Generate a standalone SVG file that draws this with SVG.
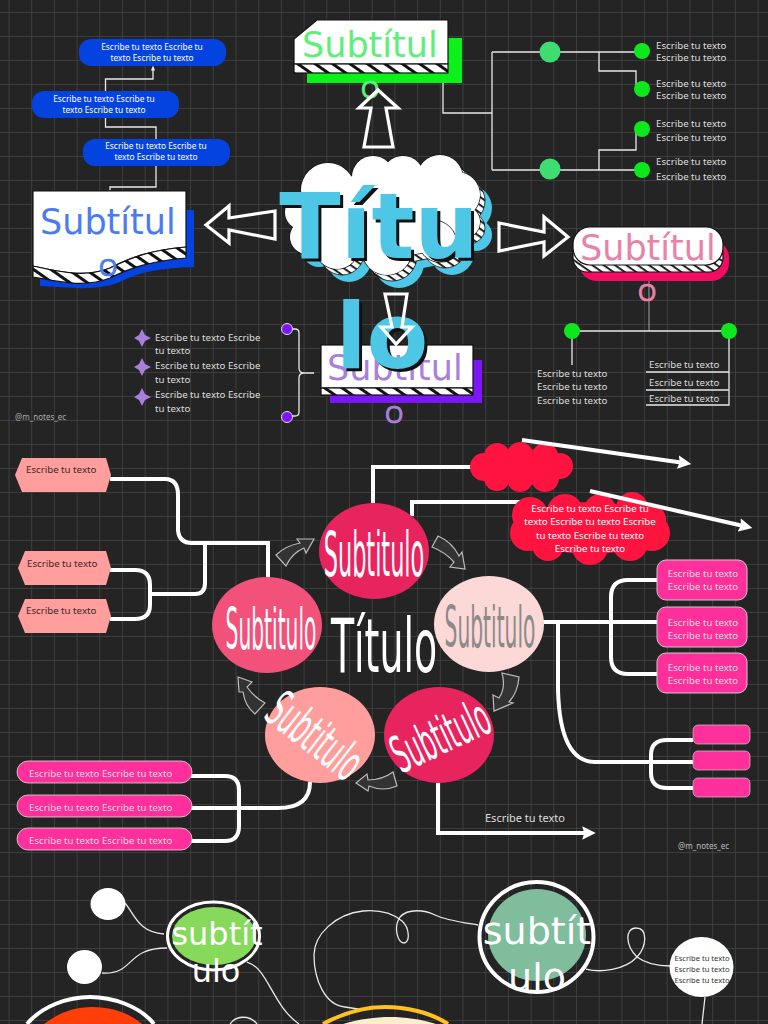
<svg xmlns="http://www.w3.org/2000/svg" width="768" height="1024" viewBox="0 0 768 1024">
<defs>
<pattern id="grid" x="8.5" y="12" width="22.7" height="24" patternUnits="userSpaceOnUse"><path d="M0 0V24M0 0H22.7" fill="none" stroke="#444" stroke-width="1.6"/></pattern>
<pattern id="h" width="17" height="10" patternUnits="userSpaceOnUse" patternTransform="rotate(35)"><rect width="17" height="10" fill="#fff"/><rect width="17" height="3" fill="#111"/></pattern>
<pattern id="h2" width="11" height="6.500" patternUnits="userSpaceOnUse" patternTransform="rotate(35)"><rect width="11" height="6.500" fill="#fff"/><rect width="11" height="2" fill="#222"/></pattern>
<marker id="ah" viewBox="0 0 10 10" refX="5" refY="5" markerWidth="3.4" markerHeight="3.6" orient="auto"><path d="M0 0L10 5L0 10L1.5 5z" fill="#fff"/></marker>
<marker id="as" viewBox="0 0 10 10" refX="5" refY="5" markerWidth="4" markerHeight="4" orient="auto"><path d="M0 1L10 5L0 9z" fill="#eee"/></marker>
<g id="cl">
<circle cx="328" cy="190" r="27"/><circle cx="373" cy="177" r="21"/><circle cx="403" cy="177" r="21"/><circle cx="440" cy="178" r="23"/><circle cx="457" cy="195" r="23"/><circle cx="303" cy="212" r="18"/><circle cx="307" cy="237" r="17"/><circle cx="337" cy="247" r="22"/><circle cx="387" cy="250" r="25"/><circle cx="440" cy="240" r="22"/><circle cx="464" cy="222" r="16"/><ellipse cx="385" cy="215" rx="85" ry="42"/>
</g>
<g id="rc1"><ellipse cx="522" cy="467" rx="42" ry="18"/><circle cx="484" cy="467" r="14"/><circle cx="497" cy="456" r="13"/><circle cx="520" cy="455" r="13"/><circle cx="545" cy="456" r="13"/><circle cx="560" cy="466" r="13"/><circle cx="545" cy="478" r="14"/><circle cx="520" cy="479" r="13"/><circle cx="497" cy="478" r="13"/></g>
<g id="rc2"><ellipse cx="590" cy="528" rx="70" ry="26"/><circle cx="530" cy="515" r="18"/><circle cx="565" cy="512" r="18"/><circle cx="600" cy="510" r="16"/><circle cx="632" cy="508" r="16"/><circle cx="650" cy="520" r="16"/><circle cx="652" cy="533" r="18"/><circle cx="528" cy="533" r="18"/><circle cx="548" cy="545" r="16"/><circle cx="590" cy="547" r="18"/><circle cx="630" cy="543" r="18"/></g>
</defs>
<style>
text{font-family:"Noto Sans","DejaVu Sans",sans-serif}
.t{font-size:9.7px;fill:#ddd}
.c{text-anchor:middle}
.w{fill:#fff}
.s{font-size:8.4px}
.d{fill:#3a2a2a}
.ln{fill:none;stroke:#e8e8e8;stroke-width:1.3}
.th{fill:none;stroke:#fff;stroke-width:4}
.sub{font-size:35px;font-family:"DejaVu Sans",sans-serif}
.o{font-size:24px;text-anchor:middle;stroke-width:.7}
.blk{stroke:#111;stroke-width:1.2}
.big{font-family:"DejaVu Sans",sans-serif;font-weight:bold;font-size:90px;text-anchor:middle;fill:#4ec7e6}
.shadow{fill:#111}
.oval{font-family:"DejaVu Sans",sans-serif;fill:#fff;font-size:27px;text-anchor:middle}
.arr{fill:none;stroke:#fff;stroke-width:3.2}
.sk{fill:#333;stroke:#bbb;stroke-width:1.2}
.blue{fill:#0543e0}
.pk{fill:#ff2f9c}
.hex{fill:#ff9e9c}
.g1{fill:#3fdc72}
.g2{fill:#0ce81c}
.star{fill:#a97fdb}
.bs{font-size:32px;font-family:"DejaVu Sans",sans-serif;fill:#fff;text-anchor:middle}
.bs2{font-size:38px;font-family:"DejaVu Sans",sans-serif;fill:#fff;text-anchor:middle}
</style>
<rect width="768" height="1024" fill="#242424"/>
<rect width="768" height="1024" fill="url(#grid)"/>
<g id="connectors">
<path class="ln" d="M156 166V187H110V190M156 139V127H105.500V79H153V68" marker-end="url(#as)"/>
<path class="ln" d="M443 79V113H492M492 52V170M492 52H642M492 170H642M599 52V71H636V89M599 170V150H636V130"/>
<path class="ln" d="M649 272V331" opacity=".5"/>
<path class="ln" d="M572 331H729M572 331V365M729 331V405H646M646 372H729M646 390H729"/>
<path class="ln" d="M287 329H295Q299 329 299 333V368Q299 373 304 373H314M304 373Q299 373 299 378V412Q299 416 295 416H287"/>
<path class="th" d="M110 479H165Q178 479 178 495V530Q179 543 192 543H268V580M205 543V583Q205 594 195 594H152M110 570H135Q150 570 150 585V605Q150 619 135 619H110"/>
<path class="th" d="M191 776H225Q239 776 239 790V826Q239 841 225 841H191M191 808H278Q310 808 310 782"/>
<path class="th" d="M373 503V467H472M412 516V502H530"/>
<path class="th" d="M536 622H658M658 580H628Q611 580 611 597V657Q611 674 628 674H658M558 622V690Q560 762 595 762H693M693 740H667Q651 740 651 755V773Q651 788 667 788H693"/>
<path class="th" d="M438 783V833H589" marker-end="url(#ah)"/>
<path class="ln" d="M125 903C135 915 138 932 164 934M102 973C135 975 125 948 167 948M247 962C268 968 272 1005 299 1024M478 925C460 922 445 920 435 915C425 910 408 908 400 917C393 928 398 943 404 943C410 943 410 928 402 921C390 911 375 910 363 911C335 914 314 935 314 955C314 980 325 1005 345 1007L358 1009M586 969C600 973 625 970 637 957C647 946 648 928 636 928C625 928 625 945 637 957C645 963 655 966 670 966M705 997L702 1024M230 1024C236 1015 250 1015 257 1024"/>
</g>
<g id="node-bl1"><rect x="79" y="39" width="147" height="27" rx="12" class="blue"/><text class="t c w s" x="152" y="50">Escribe tu texto Escribe tu</text><text class="t c w s" x="152" y="61">texto Escribe tu texto</text></g>
<g id="node-bl2"><rect x="32" y="91" width="147" height="27" rx="12" class="blue"/><text class="t c w s" x="104" y="102">Escribe tu texto Escribe tu</text><text class="t c w s" x="104" y="113">texto Escribe tu texto</text></g>
<g id="node-bl3"><rect x="83" y="139" width="147" height="27" rx="12" class="blue"/><text class="t c w s" x="156" y="149">Escribe tu texto Escribe tu</text><text class="t c w s" x="156" y="160">texto Escribe tu texto</text></g>
<g id="sub-green"><rect x="307" y="38" width="155" height="45" fill="#0cf01c"/><path d="M294 39L317 20H448V64H294z" fill="#fff" class="blk"/><rect x="294" y="64" width="154" height="9" fill="url(#h)" class="blk"/><text class="sub" x="302" y="57" fill="#5cf07a">Subtítul</text><text x="370" y="98" class="o" fill="#5cf07a" stroke="#5cf07a">O</text></g>
<g id="sub-blue"><path d="M186 210H194V267C160 268 140 272 120 282C95 292 65 287 40 286V265L186 245z" fill="#0543e0"/><path d="M33 191H186V247C150 250 130 258 110 268C85 278 60 272 33 266z" fill="#fff" class="blk"/><path d="M33 266C60 272 85 278 110 268C130 258 150 250 186 247V258C150 261 130 268 110 278C85 288 60 282 33 277z" fill="url(#h)" class="blk"/><text class="sub" x="40" y="234" fill="#4a7cf0">Subtítul</text><text x="108" y="276" class="o" fill="#4a7cf0" stroke="#4a7cf0">O</text></g>
<g id="sub-pink"><rect x="579" y="240" width="150" height="41" rx="18" fill="#f20d63"/><rect x="573" y="240" width="150" height="32" rx="14" fill="url(#h2)" class="blk"/><rect x="573" y="227" width="150" height="38" rx="17" fill="#fff" class="blk"/><text class="sub" x="580" y="260" fill="#e882a8">Subtítul</text><text x="647" y="301" class="o" fill="#e882a8" stroke="#e882a8">O</text></g>
<g id="sub-purple"><rect x="330" y="360" width="152" height="43" fill="#7d16f5"/><rect x="321" y="345" width="152" height="43" fill="#fff" class="blk"/><rect x="321" y="388" width="152" height="7" fill="url(#h)" class="blk"/><text class="sub" x="327" y="380" fill="#a87fdb">Subtítul</text><text x="394" y="423" class="o" fill="#a87fdb" stroke="#a87fdb">O</text></g>
<g id="arrow-up"><path class="arr" d="M364 147L371 108H359L378 90L398 108H386L393 147z"/></g>
<g id="arrow-left"><path class="arr" d="M275 211L229 218V206L206 225L229 243V230L275 239z"/></g>
<g id="arrow-right"><path class="arr" d="M499 223L544 232V217L568 237L544 256V242L499 251z"/></g>
<g id="title-cloud">
<use href="#cl" fill="#4ec7e6" transform="translate(12 13)"/>
<use href="#cl" fill="url(#h2)" stroke="#111" stroke-width=".8" transform="translate(5 6)"/>
<use href="#cl" fill="#fff" stroke="#111" stroke-width="1.200"/>
<use href="#cl" fill="#fff"/>
<path d="M431 220A24 24 0 0 1 457 245" fill="none" stroke="#444"/>
<text class="big shadow" x="382" y="261">Títu</text>
<text class="big" x="379" y="258">Títu</text>
<text class="big shadow" x="385" y="371">lo</text>
<text class="big" x="382" y="368">lo</text>
</g>
<g id="arrow-down"><path class="arr" d="M385 294H407L402 327H412L396 344L381 327H392z"/></g>
<g id="dots-top"><circle cx="550" cy="52" r="10.500" class="g1"/><circle cx="550" cy="169" r="10.500" class="g1"/><circle cx="642" cy="51" r="8" class="g2"/><circle cx="642" cy="89" r="8" class="g2"/><circle cx="642" cy="129" r="8" class="g2"/><circle cx="642" cy="170" r="8" class="g2"/>
<text class="t" x="656" y="49">Escribe tu texto</text><text class="t" x="656" y="61">Escribe tu texto</text><text class="t" x="656" y="87">Escribe tu texto</text><text class="t" x="656" y="99">Escribe tu texto</text><text class="t" x="656" y="127">Escribe tu texto</text><text class="t" x="656" y="141">Escribe tu texto</text><text class="t" x="656" y="165">Escribe tu texto</text><text class="t" x="656" y="180">Escribe tu texto</text></g>
<g id="dots-right"><circle cx="572" cy="331" r="8" class="g2"/><circle cx="729" cy="331" r="8" class="g2"/><text class="t" x="537" y="377">Escribe tu texto</text><text class="t" x="537" y="390">Escribe tu texto</text><text class="t" x="537" y="404">Escribe tu texto</text><text class="t" x="649" y="368">Escribe tu texto</text><text class="t" x="649" y="386">Escribe tu texto</text><text class="t" x="649" y="402">Escribe tu texto</text></g>
<g id="stars"><path d="M142 329L145 335L151 338L145 341L142 347L139 341L134 338L139 335z" class="star"/><path d="M142 358L145 364L151 367L145 370L142 376L139 370L134 367L139 364z" class="star"/><path d="M142 388L145 394L151 397L145 400L142 406L139 400L134 397L139 394z" class="star"/>
<circle cx="287" cy="329" r="5.500" fill="#7d16f5" stroke="#ddd"/><circle cx="287" cy="417" r="5.500" fill="#7d16f5" stroke="#ddd"/>
<text class="t" x="155" y="341">Escribe tu texto Escribe</text><text class="t" x="155" y="354">tu texto</text><text class="t" x="155" y="369">Escribe tu texto Escribe</text><text class="t" x="155" y="383">tu texto</text><text class="t" x="155" y="398">Escribe tu texto Escribe</text><text class="t" x="155" y="412">tu texto</text></g>
<text x="15" y="420" font-size="8" fill="#aaa">@m_notes_ec</text>
<text x="678" y="849" font-size="8" fill="#bbb">@m_notes_ec</text>
<g id="hex"><path d="M22 458H106L111 475L106 492H22L15 475z" class="hex"/><path d="M25 551H106L111 568L106 585H25L18 568z" class="hex"/><path d="M25 599H106L111 616L106 633H25L18 616z" class="hex"/><text class="t d" x="26" y="473">Escribe tu texto</text><text class="t d" x="27" y="567">Escribe tu texto</text><text class="t d" x="26" y="614">Escribe tu texto</text></g>
<g id="ovals">
<ellipse cx="374" cy="551" rx="55" ry="48" fill="#e8245f"/><text class="oval" transform="translate(374 576) scale(.83 2.3)">Subtitulo</text>
<ellipse cx="267" cy="625" rx="55" ry="48" fill="#f2527a"/><text class="oval" transform="translate(271 649) scale(.75 2.1)">Subtitulo</text>
<ellipse cx="489" cy="624" rx="55" ry="48" fill="#fcd9d6"/><text class="oval" transform="translate(490 647) scale(.75 2.1)" style="fill:#8a8a8a">Subtitulo</text>
<ellipse cx="320" cy="735" rx="55" ry="48" fill="#ff9e9c"/><text class="oval" transform="translate(304 750) rotate(38) scale(.88 1.9)">Subtitulo</text>
<ellipse cx="439" cy="735" rx="55" ry="48" fill="#e8245f"/><text class="oval" transform="translate(448 752) rotate(-25) scale(.85 1.9)">Subtitulo</text>
<text class="oval" transform="translate(384 672) scale(.88 1.73)" style="font-size:43px">Título</text>
</g>
<g id="sketch-arrows"><path class="sk" d="M276 555Q285 546 300 543L297 539L314 539L306 553L304 548Q292 553 286 566z"/><path class="sk" d="M432 547L438 536Q452 542 459 556L462 552L465 569L450 567L454 562Q445 552 432 547z"/><path class="sk" d="M502 673L519 677Q518 692 509 702L513 703L494 711L493 695L499 698Q506 688 502 673z"/><path class="sk" d="M356 783L367 774L368 780Q382 780 393 772L397 786Q383 792 369 786L368 791z"/><path class="sk" d="M238 677L252 682L247 687Q254 697 265 703L255 714Q245 706 243 692L239 692z"/></g>
<g id="cloud-red"><use href="#rc1" fill="#ff1440"/><use href="#rc2" fill="#ff1440"/>
<text class="t c w" x="590" y="512">Escribe tu texto Escribe tu</text><text class="t c w" x="590" y="525">texto Escribe tu texto Escribe</text><text class="t c w" x="590" y="539">tu texto Escribe tu texto</text><text class="t c w" x="590" y="552">Escribe tu texto</text></g>
<g id="cloud-arrows"><path d="M522 440L684.500 463" stroke="#fff" stroke-width="4" marker-end="url(#ah)"/><path d="M590 491L745.700 526.500" stroke="#fff" stroke-width="4" marker-end="url(#ah)"/></g>
<g id="pink-boxes"><rect x="657" y="560" width="90" height="40" rx="9" class="pk" stroke="#ccc"/><rect x="657" y="607" width="90" height="40" rx="9" class="pk" stroke="#ccc"/><rect x="657" y="653" width="90" height="40" rx="9" class="pk" stroke="#ccc"/>
<text class="t c" x="703" y="577">Escribe tu texto</text><text class="t c" x="703" y="590">Escribe tu texto</text><text class="t c" x="703" y="626">Escribe tu texto</text><text class="t c" x="703" y="639">Escribe tu texto</text><text class="t c" x="703" y="671">Escribe tu texto</text><text class="t c" x="703" y="684">Escribe tu texto</text>
<rect x="693" y="725" width="57" height="19" rx="5" class="pk" stroke="#ccc" stroke-width=".7"/><rect x="693" y="751" width="57" height="19" rx="5" class="pk" stroke="#ccc" stroke-width=".7"/><rect x="693" y="778" width="57" height="19" rx="5" class="pk" stroke="#ccc" stroke-width=".7"/></g>
<g id="pink-pills"><rect x="17" y="761" width="175" height="22" rx="11" class="pk" stroke="#ddd" stroke-width=".8"/><rect x="17" y="795" width="175" height="22" rx="11" class="pk" stroke="#ddd" stroke-width=".8"/><rect x="17" y="828" width="175" height="22" rx="11" class="pk" stroke="#ddd" stroke-width=".8"/>
<text class="t" x="29" y="777">Escribe tu texto Escribe tu texto</text><text class="t" x="29" y="811">Escribe tu texto Escribe tu texto</text><text class="t" x="29" y="844">Escribe tu texto Escribe tu texto</text></g>
<text class="t" x="485" y="822" style="font-size:11px">Escribe tu texto</text>
<g id="node-dot1"><ellipse cx="108" cy="904" rx="17.500" ry="16" fill="#fff"/></g>
<g id="node-dot2"><ellipse cx="84.500" cy="967" rx="17.500" ry="17" fill="#fff"/></g>
<g id="node-green"><ellipse cx="213.500" cy="936" rx="46" ry="34" fill="none" stroke="#fff" stroke-width="3"/><ellipse cx="214" cy="936" rx="42" ry="29" fill="#86d95a"/><text class="bs" x="217" y="945">subtít</text><text class="bs" x="216" y="982">ulo</text></g>
<g id="node-teal"><ellipse cx="536.500" cy="937" rx="57" ry="55" fill="none" stroke="#fff" stroke-width="4"/><ellipse cx="537" cy="935" rx="49" ry="46" fill="#7fbd9d"/><text class="bs2" x="537" y="944">subtít</text><text class="bs2" x="537" y="990">ulo</text></g>
<g id="node-white"><ellipse cx="701.500" cy="967" rx="32" ry="30" fill="#fff"/><text class="c" x="702" y="961" font-size="7.600" fill="#333">Escribe tu texto</text><text class="c" x="702" y="972" font-size="7.600" fill="#333">Escribe tu texto</text><text class="c" x="702" y="983" font-size="7.600" fill="#333">Escribe tu texto</text></g>
<g id="node-red"><path d="M27 1024C42 1006 68 997 90 997C112 997 140 1006 154 1024" fill="none" stroke="#fff" stroke-width="4"/><path d="M44 1024C60 1012 75 1007 92 1007C110 1007 128 1012 142 1024z" fill="#ff3e0a"/></g>
<g id="node-yellow"><path d="M323 1024C345 1012 365 1007 385 1007C405 1007 430 1012 448 1024" fill="none" stroke="#ffc21c" stroke-width="4"/><path d="M343 1024C360 1019 375 1017 390 1017C405 1017 420 1019 436 1024z" fill="#fdeecb"/></g>
</svg>
